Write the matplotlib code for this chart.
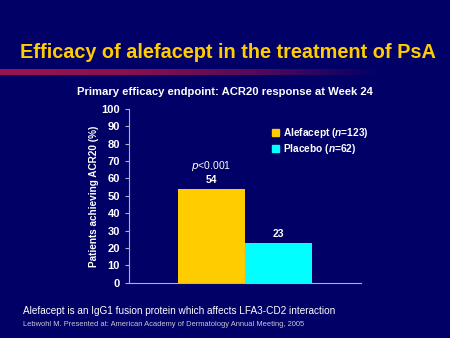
import matplotlib.pyplot as plt
import numpy as np
from matplotlib.colors import LinearSegmentedColormap

# Data
groups = ["Alefacept", "Placebo"]
n_patients = [123, 62]
acr20 = [54, 23]
bar_colors = ["#FFCC00", "#00FFFF"]
y_ticks = list(range(0, 101, 10))

bg = "#000066"
plt.rcParams['font.family'] = ['Liberation Sans', 'DejaVu Sans']
plt.rcParams['mathtext.fontset'] = 'custom'
plt.rcParams['mathtext.it'] = 'Liberation Sans:italic:bold'
plt.rcParams['mathtext.rm'] = 'Liberation Sans:bold'

fig = plt.figure(figsize=(4.5, 3.38), dpi=100, facecolor=bg)

# title + gradient line
fig.text(0.506, 0.846, "Efficacy of alefacept in the treatment of PsA",
         color="#FFCC00", fontsize=14.3, fontweight="bold", ha="center", va="center")
grad_ax = fig.add_axes([0, 0.778, 0.85, 0.018])
grad = np.linspace(0, 1, 256).reshape(1, -1)
cmap = LinearSegmentedColormap.from_list("g", ["#99144F", "#8A1050", "#550A5A", bg])
grad_ax.imshow(grad, aspect="auto", cmap=cmap)
grad_ax.axis("off")

fig.text(0.50, 0.728, "Primary efficacy endpoint: ACR20 response at Week 24",
         color="white", fontsize=8.1, fontweight="bold", ha="center", va="center")

# bar chart
ax = fig.add_axes([0.287, 0.163, 0.516, 0.515], facecolor=bg)
x = np.arange(len(groups))
ax.bar(x, acr20, width=1.0, color=bar_colors, edgecolor="none")
ax.set_xlim(-1.231, 2.246)
ax.set_ylim(0, 100)
ax.set_yticks(y_ticks)
ax.set_xticks([])
for s in ["top", "right"]:
    ax.spines[s].set_visible(False)
for s in ["left", "bottom"]:
    ax.spines[s].set_color("#B0B0C8")
ax.tick_params(axis="y", colors="#B0B0C8", labelcolor="white", length=3,
               labelsize=8)
for lab in ax.get_yticklabels():
    lab.set_fontweight("bold")
ax.set_ylabel("Patients achieving ACR20 (%)", color="white", fontsize=7.2,
              fontweight="bold", labelpad=2)

for xi, v in zip(x, acr20):
    ax.text(xi, v + 5, str(v), color="white", fontsize=7.5, fontweight="bold",
            ha="center", va="center")
ax.text(x[0], 67, "$p$<0.001", color="white", fontsize=7.5, ha="center",
        va="center", math_fontfamily="dejavusans")

# legend
labels = [f"{g} ($\\it{{n}}$={n})" for g, n in zip(groups, n_patients)]
handles = [plt.Rectangle((0, 0), 1, 1, color=c) for c in bar_colors]
ax.legend(handles, labels, loc="upper left", bbox_to_anchor=(0.575, 0.955),
          frameon=False, labelcolor="white", handlelength=0.7, handleheight=0.7,
          handletextpad=0.4, labelspacing=0.2,
          prop={"weight": "bold", "size": 7.3})

fig.text(0.051, 0.080, "Alefacept is an IgG1 fusion protein which affects LFA3-CD2 interaction",
         color="white", fontsize=7.2, ha="left", va="center")
fig.text(0.051, 0.041, "Lebwohl M. Presented at: American Academy of Dermatology Annual Meeting, 2005",
         color="#C8C8D8", fontsize=5.45, ha="left", va="center")

fig.savefig("out.png", dpi=100, facecolor=bg)
